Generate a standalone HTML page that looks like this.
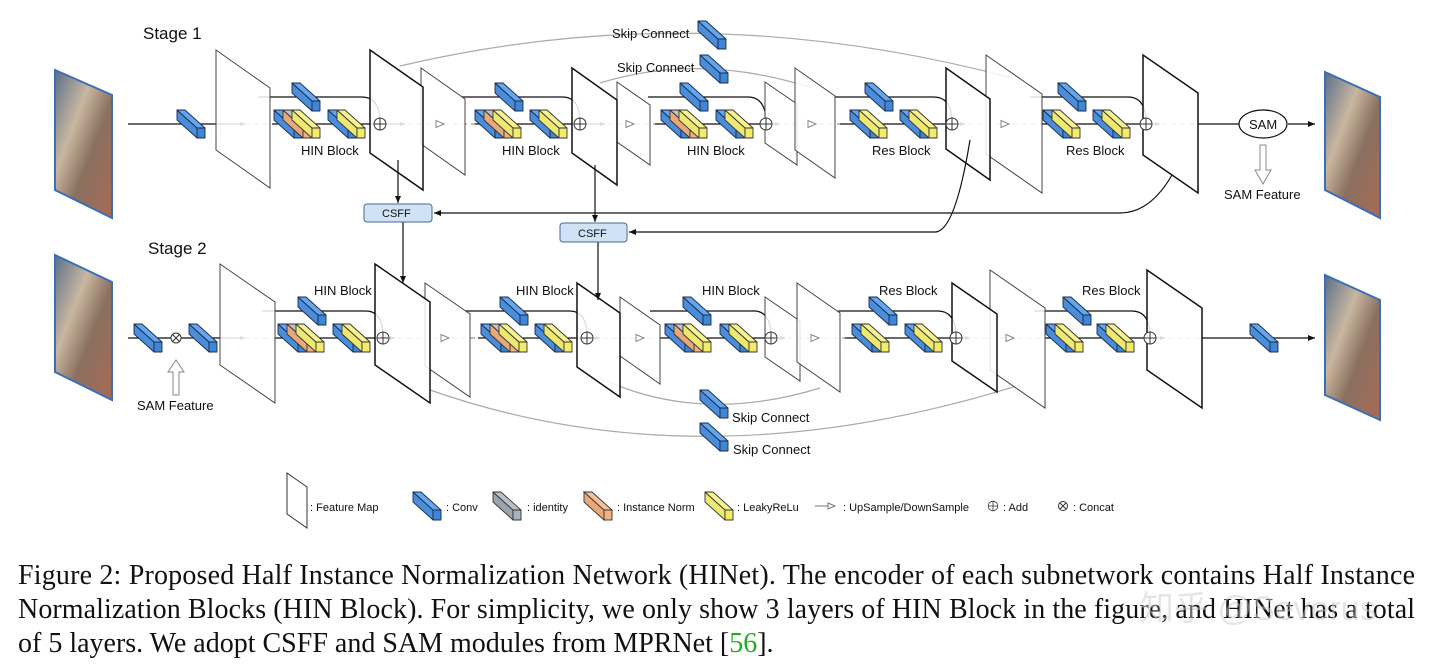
<!DOCTYPE html>
<html><head><meta charset="utf-8"><style>
html,body{margin:0;padding:0;background:#fff;width:1440px;height:664px;overflow:hidden}
svg{display:block}
.lb{font-family:"Liberation Sans",sans-serif;font-size:13px;fill:#111}
.lg{font-family:"Liberation Sans",sans-serif;font-size:11px;fill:#111}
.cap{font-family:"Liberation Serif",serif;font-size:28px;fill:#111}
</style></head><body>
<svg width="1440" height="664" viewBox="0 0 1440 664" xmlns="http://www.w3.org/2000/svg">
<defs>
<g id="cv" stroke="#1b2b4a" stroke-width="0.9" stroke-linejoin="round">
<polygon points="0,0 20,18 20,28 0,10" fill="#4a8ddb"/><polygon points="0,0 8,0 28,18 20,18" fill="#63a6ee"/><rect x="20" y="18" width="8" height="10" fill="#3f86d6"/></g>
<g id="cg" stroke="#333" stroke-width="0.9" stroke-linejoin="round">
<polygon points="0,0 20,18 20,28 0,10" fill="#9aa4ae"/><polygon points="0,0 8,0 28,18 20,18" fill="#b9c0c8"/><rect x="20" y="18" width="8" height="10" fill="#a9b2bb"/></g>
<g id="co" stroke="#333" stroke-width="0.9" stroke-linejoin="round">
<polygon points="0,0 20,18 20,28 0,10" fill="#e8a878"/><polygon points="0,0 8,0 28,18 20,18" fill="#bcc2c8"/><rect x="20" y="18" width="8" height="10" fill="#f0b080"/></g>
<g id="cy" stroke="#333" stroke-width="0.9" stroke-linejoin="round">
<polygon points="0,0 20,18 20,28 0,10" fill="#eee870"/><polygon points="0,0 8,0 28,18 20,18" fill="#f6f290"/><rect x="20" y="18" width="8" height="10" fill="#f2ec6a"/></g>
<g id="hin"><use href="#cv"/><use href="#co" x="9"/><use href="#cy" x="18"/></g>
<g id="res"><use href="#cv"/><use href="#cy" x="9"/></g>
<g id="add"><circle r="6" fill="#fff" stroke="#333"/><path d="M-6,0H6M0,-6V6" stroke="#333"/></g>
<g id="tri"><polygon points="0,-3.5 8,0 0,3.5" fill="#fff" stroke="#888"/></g>
<marker id="ar" markerWidth="8" markerHeight="8" refX="7" refY="4" orient="auto" markerUnits="userSpaceOnUse"><path d="M0,1 L7,4 L0,7z" fill="#111"/></marker>
<marker id="as" markerWidth="6" markerHeight="6" refX="5" refY="3" orient="auto" markerUnits="userSpaceOnUse"><path d="M0,1 L5,3 L0,5z" fill="#111"/></marker>
<linearGradient id="ph" x1="0" y1="0" x2="1" y2="1"><stop offset="0" stop-color="#5b6f8a"/><stop offset="0.35" stop-color="#c9b7a0"/><stop offset="0.6" stop-color="#8a7060"/><stop offset="1" stop-color="#a86a55"/></linearGradient>
</defs>

<text class="lb" x="143" y="39" style="font-size:17px">Stage 1</text>
<text class="lb" x="148" y="254" style="font-size:17px">Stage 2</text>

<polygon points="55,70 112,95 112,218 55,190" fill="url(#ph)" stroke="#3a6fb8" stroke-width="2"/>
<polygon points="1325,72 1380,97 1380,218 1325,190" fill="url(#ph)" stroke="#3a6fb8" stroke-width="2"/>
<polygon points="55,255 112,282 112,400 55,372" fill="url(#ph)" stroke="#3a6fb8" stroke-width="2"/>
<polygon points="1325,275 1380,300 1380,420 1325,395" fill="url(#ph)" stroke="#3a6fb8" stroke-width="2"/>

<g fill="none" stroke="#aaa" stroke-width="1.2">
<path d="M400,66 Q700,-5 1012,78"/><path d="M600,83 Q700,52 812,88"/>
<path d="M600,378 Q700,425 820,388"/><path d="M430,390 Q700,485 1020,385"/>
</g>

<g stroke="#111" stroke-width="1.2" fill="none">
<path d="M128,124H245" marker-end="url(#as)"/><path d="M272,124H405" marker-end="url(#as)"/>
<path d="M475,124H605" marker-end="url(#as)"/><path d="M655,124H780" marker-end="url(#as)"/>
<path d="M840,124H965" marker-end="url(#as)"/><path d="M1040,124H1160" marker-end="url(#as)"/>
<path d="M1198,124H1240"/><path d="M1288,124H1315" marker-end="url(#ar)"/>
<path d="M258,97H362Q378,97 380,118"/><path d="M460,97H563Q578,97 580,118"/><path d="M648,97H748Q764,97 766,118"/><path d="M835,97H934Q950,97 952,118"/><path d="M1030,97H1128Q1144,97 1146,118"/>
</g>
<g stroke="#999" stroke-width="1.2" fill="none" stroke-dasharray="5,4">
<path d="M245,124H272"/><path d="M408,124H475"/><path d="M608,124H655"/><path d="M783,124H840"/><path d="M968,124H1040"/><path d="M1162,124H1198"/>
</g>
<g stroke="#111" stroke-width="1.2" fill="none">
<path d="M128,338H245" marker-end="url(#as)"/><path d="M275,338H395" marker-end="url(#as)"/>
<path d="M478,338H600" marker-end="url(#as)"/><path d="M660,338H785" marker-end="url(#as)"/>
<path d="M845,338H970" marker-end="url(#as)"/><path d="M1045,338H1165" marker-end="url(#as)"/>
<path d="M1202,338H1315" marker-end="url(#ar)"/>
<path d="M262,311H366Q381,311 383,332"/><path d="M465,311H570Q585,311 587,332"/><path d="M650,311H754Q769,311 771,332"/><path d="M838,311H938Q954,311 956,332"/><path d="M1034,311H1132Q1148,311 1150,332"/>
</g>
<g stroke="#999" stroke-width="1.2" fill="none" stroke-dasharray="5,4">
<path d="M245,338H275"/><path d="M398,338H478"/><path d="M603,338H660"/><path d="M788,338H845"/><path d="M973,338H1045"/><path d="M1168,338H1202"/>
</g>

<g fill="#fff" fill-opacity="0.85" stroke="#444" stroke-width="1">
<polygon points="216,50 270,88 270,188 216,150"/>
<polygon points="421,68 465,99 465,175 421,144"/>
<polygon points="617,82 650,105 650,165 617,142"/>
<polygon points="765,82 797,104 797,165 765,143"/>
<polygon points="795,68 835,96 835,178 795,150"/>
<polygon points="986,55 1042,94 1042,193 986,154"/>
<polygon points="220,264 275,302 275,403 220,365"/>
<polygon points="425,283 470,314 470,397 425,366"/>
<polygon points="620,297 660,325 660,384 620,356"/>
<polygon points="765,297 800,321 800,381 765,357"/>
<polygon points="797,283 840,313 840,392 797,362"/>
<polygon points="990,270 1045,308 1045,408 990,370"/>
</g>
<g fill="#fff" fill-opacity="0.85" stroke="#111" stroke-width="1.5">
<polygon points="370,50 423,87 423,190 370,153"/>
<polygon points="572,68 617,100 617,185 572,153"/>
<polygon points="946,68 990,99 990,180 946,149"/>
<polygon points="1143,55 1198,93 1198,193 1143,155"/>
<polygon points="375,264 430,302 430,403 375,365"/>
<polygon points="577,283 620,313 620,397 577,367"/>
<polygon points="952,283 997,314 997,392 952,361"/>
<polygon points="1147,270 1202,308 1202,408 1147,370"/>
</g>

<use href="#tri" x="436" y="124"/><use href="#tri" x="626" y="124"/><use href="#tri" x="808" y="124"/><use href="#tri" x="1001" y="124"/>
<use href="#tri" x="441" y="338"/><use href="#tri" x="636" y="338"/><use href="#tri" x="811" y="338"/><use href="#tri" x="1006" y="338"/>

<use href="#cv" x="177" y="110"/>
<use href="#cv" x="292" y="83"/><use href="#hin" x="274" y="110"/><use href="#res" x="328" y="110"/><use href="#add" x="380" y="124"/>
<use href="#cv" x="495" y="83"/><use href="#hin" x="475" y="110"/><use href="#res" x="530" y="110"/><use href="#add" x="580" y="124"/>
<use href="#cv" x="680" y="83"/><use href="#hin" x="661" y="110"/><use href="#res" x="716" y="110"/><use href="#add" x="766" y="124"/>
<use href="#cv" x="865" y="83"/><use href="#res" x="850" y="110"/><use href="#res" x="900" y="110"/><use href="#add" x="952" y="124"/>
<use href="#cv" x="1058" y="83"/><use href="#res" x="1043" y="110"/><use href="#res" x="1093" y="110"/><use href="#add" x="1146" y="124"/>
<text class="lb" x="301" y="155">HIN Block</text><text class="lb" x="502" y="155">HIN Block</text><text class="lb" x="687" y="155">HIN Block</text>
<text class="lb" x="872" y="155">Res Block</text><text class="lb" x="1066" y="155">Res Block</text>
<use href="#cv" x="698" y="21"/><text class="lb" x="612" y="38">Skip Connect</text>
<use href="#cv" x="700" y="55"/><text class="lb" x="617" y="72">Skip Connect</text>

<ellipse cx="1263" cy="124" rx="24" ry="14" fill="#fff" stroke="#111" stroke-width="1.2"/>
<text class="lb" x="1249" y="129">SAM</text>
<polygon points="1260,145 1266,145 1266,170 1271,170 1263,184 1255,170 1260,170" fill="#fff" stroke="#888"/>
<text class="lb" x="1224" y="199">SAM Feature</text>

<g stroke="#111" stroke-width="1.2" fill="none">
<path d="M398,160V203" marker-end="url(#ar)"/><path d="M595,165V222" marker-end="url(#ar)"/>
<path d="M970,140Q955,232 935,232H629" marker-end="url(#ar)"/>
<path d="M1172,175Q1150,213 1120,213H434" marker-end="url(#ar)"/>
<path d="M403,222V283" marker-end="url(#ar)"/><path d="M598,242V300" marker-end="url(#ar)"/>
</g>
<rect x="364" y="204" width="68" height="18" rx="3" fill="#cfe2f6" stroke="#4a6a90"/>
<text class="lb" x="382" y="217" style="font-size:11px">CSFF</text>
<rect x="560" y="223" width="67" height="19" rx="3" fill="#cfe2f6" stroke="#4a6a90"/>
<text class="lb" x="578" y="237" style="font-size:11px">CSFF</text>

<use href="#cv" x="134" y="324"/><circle cx="176" cy="338" r="5" fill="#fff" stroke="#333"/><path d="M172.5,334.5l7,7M179.5,334.5l-7,7" stroke="#333"/>
<use href="#cv" x="189" y="324"/>
<polygon points="173,395 179,395 179,372 184,372 176,360 168,372 173,372" fill="#fff" stroke="#888"/>
<text class="lb" x="137" y="410">SAM Feature</text>
<use href="#cv" x="298" y="297"/><use href="#hin" x="278" y="324"/><use href="#res" x="333" y="324"/><use href="#add" x="383" y="338"/>
<use href="#cv" x="500" y="297"/><use href="#hin" x="481" y="324"/><use href="#res" x="535" y="324"/><use href="#add" x="587" y="338"/>
<use href="#cv" x="683" y="297"/><use href="#hin" x="665" y="324"/><use href="#res" x="720" y="324"/><use href="#add" x="771" y="338"/>
<use href="#cv" x="869" y="297"/><use href="#res" x="852" y="324"/><use href="#res" x="905" y="324"/><use href="#add" x="956" y="338"/>
<use href="#cv" x="1063" y="297"/><use href="#res" x="1046" y="324"/><use href="#res" x="1097" y="324"/><use href="#add" x="1150" y="338"/>
<use href="#cv" x="1250" y="324"/>
<text class="lb" x="314" y="295">HIN Block</text><text class="lb" x="516" y="295">HIN Block</text><text class="lb" x="702" y="295">HIN Block</text>
<text class="lb" x="879" y="295">Res Block</text><text class="lb" x="1082" y="295">Res Block</text>
<use href="#cv" x="700" y="390"/><text class="lb" x="732" y="422">Skip Connect</text>
<use href="#cv" x="700" y="423"/><text class="lb" x="733" y="454">Skip Connect</text>

<polygon points="287,473 307,487 307,528 287,514" fill="#fff" stroke="#333"/>
<text class="lg" x="310" y="511">: Feature Map</text>
<use href="#cv" x="413" y="492"/><text class="lg" x="446" y="511">: Conv</text>
<use href="#cg" x="493" y="492"/><text class="lg" x="527" y="511">: identity</text>
<g transform="translate(584,492)"><g stroke="#333" stroke-width="0.9"><polygon points="0,0 20,18 20,28 0,10" fill="#e8a878"/><polygon points="0,0 8,0 28,18 20,18" fill="#f2c09a"/><rect x="20" y="18" width="8" height="10" fill="#f0b080"/></g></g>
<text class="lg" x="617" y="511">: Instance Norm</text>
<use href="#cy" x="705" y="492"/><text class="lg" x="737" y="511">: LeakyReLu</text>
<path d="M815,506H828" stroke="#777"/><polygon points="828,503 835,506 828,509" fill="#fff" stroke="#777"/>
<text class="lg" x="843" y="511">: UpSample/DownSample</text>
<g transform="translate(993,506) scale(0.8)"><circle r="6" fill="#fff" stroke="#333"/><path d="M-6,0H6M0,-6V6" stroke="#333"/></g>
<text class="lg" x="1003" y="511">: Add</text>
<circle cx="1063" cy="506" r="4.5" fill="#fff" stroke="#333"/><path d="M1060,503l6,6M1066,503l-6,6" stroke="#333"/>
<text class="lg" x="1073" y="511">: Concat</text>

<text class="cap" x="18" y="584" textLength="1397" lengthAdjust="spacing">Figure 2: Proposed Half Instance Normalization Network (HINet). The encoder of each subnetwork contains Half Instance</text>
<text class="cap" x="18" y="618" textLength="1397" lengthAdjust="spacing">Normalization Blocks (HIN Block). For simplicity, we only show 3 layers of HIN Block in the figure, and HINet has a total</text>
<text class="cap" x="18" y="652">of 5 layers. We adopt CSFF and SAM modules from MPRNet [<tspan fill="#1fae1f">56</tspan>].</text>
<text x="1140" y="620" style="font-family:'Liberation Sans','Noto Sans CJK SC',sans-serif;font-size:34px" fill="#ccc" fill-opacity="0.5">知乎 @Severus</text>
</svg>
</body></html>
